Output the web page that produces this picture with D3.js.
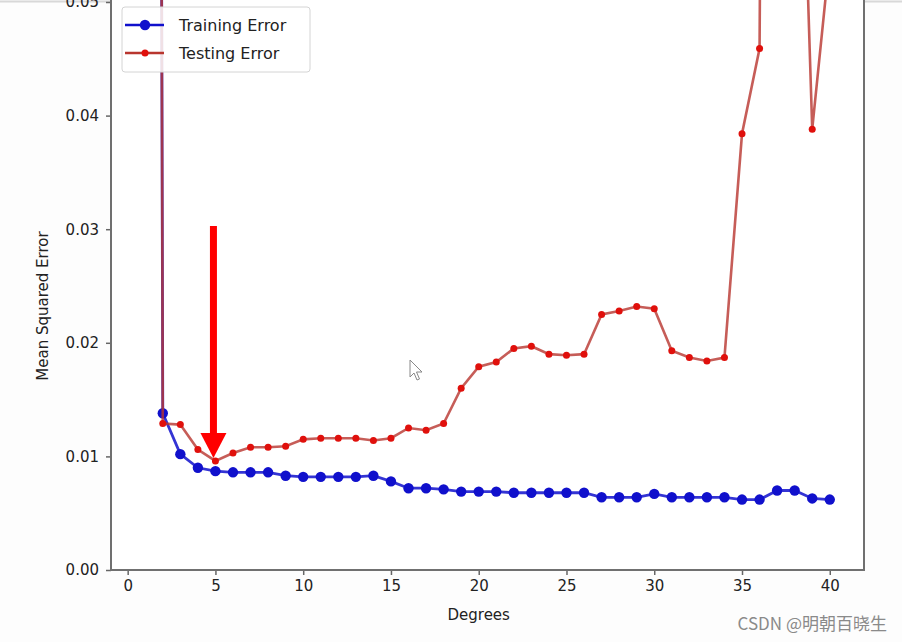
<!DOCTYPE html>
<html>
<head>
<meta charset="utf-8">
<script src="https://cdn.jsdelivr.net/npm/d3@7"></script>
<style>
  html, body { margin: 0; padding: 0; background: #fdfdfd; }
  svg { display: block; }
</style>
</head>
<body>
<svg id="chart"></svg>
<script>
"use strict";

// degrees 1..40 ; degree 1 and a few high degrees run far off the top
const degrees = d3.range(1, 41);
const training_error = [
    0.60, 0.0138, 0.0102, 0.0090, 0.0087, 0.0086, 0.0086, 0.0086, 0.0083, 0.0082,
    0.0082, 0.0082, 0.0082, 0.0083, 0.0078, 0.0072, 0.0072, 0.0071, 0.0069, 0.0069,
    0.0069, 0.0068, 0.0068, 0.0068, 0.0068, 0.0068, 0.0064, 0.0064, 0.0064, 0.0067,
    0.0064, 0.0064, 0.0064, 0.0064, 0.0062, 0.0062, 0.0070, 0.0070, 0.0063, 0.0062
];
const testing_error = [
    0.62, 0.0129, 0.0128, 0.0106, 0.0096, 0.0103, 0.0108, 0.0108, 0.0109, 0.0115,
    0.0116, 0.0116, 0.0116, 0.0114, 0.0116, 0.0125, 0.0123, 0.0129, 0.0160, 0.0179,
    0.0183, 0.0195, 0.0197, 0.0190, 0.0189, 0.0190, 0.0225, 0.0228, 0.0232, 0.0230,
    0.0193, 0.0187, 0.0184, 0.0187, 0.0384, 0.0459, 0.30, 0.0876, 0.0388, 0.054
];
const x_ticks = [0, 5, 10, 15, 20, 25, 30, 35, 40];
const y_ticks = [0.00, 0.01, 0.02, 0.03, 0.04, 0.05];
const series_names = ["Training Error", "Testing Error"];
const marked_degree = 5; // the red arrow points at the testing minimum

const width = 902, height = 642;
const plot = { left: 111, right: 864, top: -6, bottom: 570 };

const blue = "#1010cc";
const red_line = "#b8352e";
const red_marker = "#e0100c";

const svg = d3.select("#chart").attr("width", width).attr("height", height);

svg.append("rect").attr("width", width).attr("height", height).attr("fill", "#fdfdfd");
// screenshot edge at the top
svg.append("line").attr("x1", 0).attr("x2", width).attr("y1", 1.5).attr("y2", 1.5)
    .attr("stroke", "#d8d8d8").attr("stroke-width", 2);

const x = d3.scaleLinear().domain([-0.95, 41.95]).range([plot.left, plot.right]);
const y = d3.scaleLinear().domain([0, 0.05]).range([plot.bottom, 2]);

svg.append("defs").append("clipPath").attr("id", "clip")
    .append("rect")
    .attr("x", plot.left).attr("y", plot.top)
    .attr("width", plot.right - plot.left).attr("height", plot.bottom - plot.top);

svg.append("rect")
    .attr("x", plot.left).attr("y", plot.top)
    .attr("width", plot.right - plot.left).attr("height", plot.bottom - plot.top)
    .attr("fill", "#ffffff");

// axes
const xAxis = svg.append("g")
    .attr("transform", `translate(0, ${plot.bottom})`)
    .call(d3.axisBottom(x).tickValues(x_ticks).tickSize(5).tickPadding(5).tickFormat(d3.format("d")));
const yAxis = svg.append("g")
    .attr("transform", `translate(${plot.left}, 0)`)
    .call(d3.axisLeft(y).tickValues(y_ticks).tickSize(5).tickPadding(7).tickFormat(d3.format(".2f")));

[xAxis, yAxis].forEach(ax => {
    ax.select(".domain").remove();
    ax.selectAll(".tick line").attr("stroke", "#666").attr("stroke-width", 1.5);
    ax.selectAll(".tick text")
        .attr("fill", "#222")
        .style("font-family", "'DejaVu Sans', sans-serif")
        .style("font-size", "15px");
});

// spines
svg.append("rect")
    .attr("x", plot.left).attr("y", plot.top)
    .attr("width", plot.right - plot.left).attr("height", plot.bottom - plot.top)
    .attr("fill", "none").attr("stroke", "#707070").attr("stroke-width", 2);

// axis labels
svg.append("text")
    .attr("x", x(20)).attr("y", 620)
    .attr("text-anchor", "middle")
    .attr("fill", "#222")
    .style("font-family", "'DejaVu Sans', sans-serif")
    .style("font-size", "15px")
    .text("Degrees");

svg.append("text")
    .attr("transform", `translate(48, 306) rotate(-90)`)
    .attr("text-anchor", "middle")
    .attr("fill", "#222")
    .style("font-family", "'DejaVu Sans', sans-serif")
    .style("font-size", "15px")
    .text("Mean Squared Error");

// lines
const lineGen = d3.line().x(d => x(d[0])).y(d => y(d[1]));
const trainPts = degrees.map((d, i) => [d, training_error[i]]);
const testPts = degrees.map((d, i) => [d, testing_error[i]]);

const marks = svg.append("g").attr("clip-path", "url(#clip)");

marks.append("path")
    .attr("d", lineGen(trainPts))
    .attr("fill", "none")
    .attr("stroke", blue)
    .attr("stroke-opacity", 0.85)
    .attr("stroke-width", 2.8);

marks.selectAll(".train-dot")
    .data(trainPts)
    .enter().append("circle")
    .attr("class", "train-dot")
    .attr("cx", d => x(d[0]))
    .attr("cy", d => y(d[1]))
    .attr("r", 5.2)
    .attr("fill", blue);

marks.append("path")
    .attr("d", lineGen(testPts))
    .attr("fill", "none")
    .attr("stroke", red_line)
    .attr("stroke-opacity", 0.8)
    .attr("stroke-width", 2.6);

marks.selectAll(".test-dot")
    .data(testPts)
    .enter().append("circle")
    .attr("class", "test-dot")
    .attr("cx", d => x(d[0]))
    .attr("cy", d => y(d[1]))
    .attr("r", 3.5)
    .attr("fill", red_marker);

// legend
const legend = svg.append("g");
legend.append("rect")
    .attr("x", 122).attr("y", 7)
    .attr("width", 188).attr("height", 65)
    .attr("rx", 3)
    .attr("fill", "#ffffff").attr("fill-opacity", 0.85)
    .attr("stroke", "#d4d4d4").attr("stroke-width", 1);

const legendItems = [
    { name: series_names[0], line: blue, dot: blue, r: 5.2, cy: 25 },
    { name: series_names[1], line: red_line, dot: red_marker, r: 3.5, cy: 53 }
];
legendItems.forEach(it => {
    legend.append("line")
        .attr("x1", 125).attr("x2", 164)
        .attr("y1", it.cy).attr("y2", it.cy)
        .attr("stroke", it.line).attr("stroke-width", 2.6);
    legend.append("circle")
        .attr("cx", 145).attr("cy", it.cy).attr("r", it.r).attr("fill", it.dot);
    legend.append("text")
        .attr("x", 179).attr("y", it.cy + 6)
        .attr("fill", "#222")
        .style("font-family", "'DejaVu Sans', sans-serif")
        .style("font-size", "16px")
        .text(it.name);
});

// red annotation arrow pointing at degree 5
const ax = x(marked_degree) - 2;
const tipY = y(testing_error[marked_degree - 1]) - 3;
svg.append("rect")
    .attr("x", ax - 3.5).attr("y", 226)
    .attr("width", 7).attr("height", tipY - 226 - 22)
    .attr("fill", "#ff0000");
svg.append("path")
    .attr("d", `M${ax - 13},${tipY - 25} L${ax + 13},${tipY - 25} L${ax},${tipY} Z`)
    .attr("fill", "#ff0000");

// mouse cursor left in the screenshot
svg.append("path")
    .attr("d", "M410,360 L410,377 L414,373 L417,380 L419.5,379 L416.5,372 L422,372 Z")
    .attr("fill", "#ffffff")
    .attr("stroke", "#888")
    .attr("stroke-width", 1);

// watermark
svg.append("text")
    .attr("x", 887).attr("y", 630)
    .attr("text-anchor", "end")
    .attr("fill", "#8a8a8a")
    .style("font-family", "'Noto Sans CJK SC', sans-serif")
    .style("font-size", "17px")
    .text("CSDN @明朝百晓生");
</script>
</body>
</html>
